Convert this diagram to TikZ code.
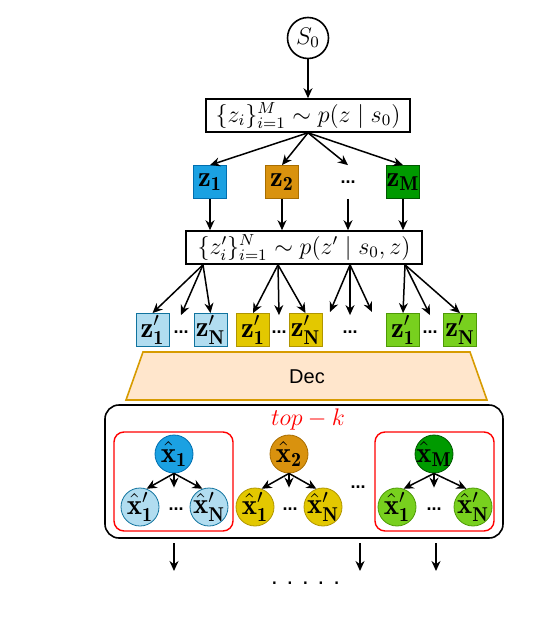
\documentclass[tikz,border=0pt]{standalone}
\usepackage{amsmath,amssymb}
\usepackage{fontspec}
\newfontfamily\decfont{Liberation Sans}
\usepackage{tikz}
\usetikzlibrary{arrows.meta,calc}
\definecolor{zblue}{HTML}{1BA1E2}
\definecolor{zbluedk}{HTML}{006EAF}
\definecolor{zorange}{HTML}{D9920E}
\definecolor{zorangedk}{HTML}{A86D00}
\definecolor{zgreen}{HTML}{009A00}
\definecolor{zgreendk}{HTML}{005700}
\definecolor{lblue}{HTML}{B1DDF0}
\definecolor{lbluedk}{HTML}{10739E}
\definecolor{lyellow}{HTML}{E3C800}
\definecolor{lyellowdk}{HTML}{B09500}
\definecolor{lgreen}{HTML}{78D01E}
\definecolor{lgreendk}{HTML}{4E9A06}
\definecolor{decfill}{HTML}{FFE6CC}
\definecolor{decdk}{HTML}{D79B00}

\begin{document}
\begin{tikzpicture}[x=0.5pt, y=-0.5pt, font=\large,
    >={Stealth[length=5pt, width=4.5pt]},
    arr/.style={->, line width=0.75pt},
    sq/.style={draw, minimum size=16.5pt, inner sep=0pt, font=\Large},
    ball/.style={circle, draw, minimum size=19pt, inner sep=-2.5pt, font=\Large},
    gap/.style={minimum size=16.5pt, inner sep=0pt, font=\decfont\bfseries\small},
    formula/.style={draw, line width=0.8pt, minimum height=16.5pt, inner sep=1pt},
    pick/.style={draw=red, line width=0.7pt, rounded corners=5pt, minimum width=59.5pt, minimum height=49.5pt}]
    \useasboundingbox (0,0) rectangle (554,631);

    % Start state and first sampling
    \node[circle, draw, line width=0.8pt, minimum size=20.5pt, inner sep=0pt] (s0) at (308,38) {$S_0$};
    \node[formula, minimum width=102pt] (pz) at (308,115.5) {$\{z_i\}_{i=1}^{M} \sim p(z \mid s_0)$};
    \draw[arr] (s0) -- (pz);

    % Latent codes
    \node[sq, fill=zblue, draw=zbluedk] (z1) at (210,182) {$\mathbf{z_1}$};
    \node[sq, fill=zorange, draw=zorangedk] (z2) at (282,182) {$\mathbf{z_2}$};
    \node[gap] (zd) at (348,182) {...};
    \node[sq, fill=zgreen, draw=zgreendk] (zM) at (403,182) {$\mathbf{z_M}$};
    \foreach \n in {z1,z2,zd,zM} \draw[arr] (pz.south) -- (\n.north);

    % Second sampling
    \node[formula, minimum width=118pt] (pzz) at (304,247.5) {$\{z'_i\}_{i=1}^{N} \sim p(z' \mid s_0, z)$};
    \foreach \n in {z1,z2,zd,zM} \draw[arr] (\n.south) -- (\n.south |- pzz.north);

    % Refined codes
    \node[sq, fill=lblue, draw=lbluedk] (b1) at (152.5,330) {$\mathbf{z'_1}$};
    \node[gap] (bd) at (181,332) {...};
    \node[sq, fill=lblue, draw=lbluedk] (bN) at (210.5,330) {$\mathbf{z'_N}$};
    \node[sq, fill=lyellow, draw=lyellowdk] (y1) at (253,330) {$\mathbf{z'_1}$};
    \node[gap] (yd) at (279,332) {...};
    \node[sq, fill=lyellow, draw=lyellowdk] (yN) at (305.5,330) {$\mathbf{z'_N}$};
    \node[gap] (md) at (350,332) {...};
    \node[sq, fill=lgreen, draw=lgreendk] (g1) at (403,330) {$\mathbf{z'_1}$};
    \node[gap] (gd) at (430,332) {...};
    \node[sq, fill=lgreen, draw=lgreendk] (gN) at (460,330) {$\mathbf{z'_N}$};
    \coordinate (m1) at (330,312);
    \coordinate (m2) at (372,312);
    \foreach \n in {b1,bd,bN} \draw[arr] ($(pzz.south)+(-101,0)$) -- (\n.north);
    \foreach \n in {y1,yd,yN} \draw[arr] ($(pzz.south)+(-26,0)$) -- (\n.north);
    \draw[arr] ($(pzz.south)+(46,0)$) -- (m1);
    \draw[arr] ($(pzz.south)+(46,0)$) -- (md.north);
    \draw[arr] ($(pzz.south)+(46,0)$) -- (m2);
    \foreach \n in {g1,gd,gN} \draw[arr] ($(pzz.south)+(101,0)$) -- (\n.north);

    % Decoder
    \draw[draw=decdk, fill=decfill, line width=0.8pt] (143,352) -- (470,352) -- (487,400) -- (126,400) -- cycle;
    \node[font=\decfont\normalsize] (dec) at (307,377) {Dec};

    % Decoded outputs
    \node[draw, line width=0.8pt, rounded corners=7pt, minimum width=199pt, minimum height=66.5pt] (out) at (304,471.5) {};
    \node[text=red] (topk) at (308,419) {$top-k$};
    \node[pick] (k1) at (173.5,481.5) {};
    \node[pick] (k2) at (434.5,481.5) {};

    \node[ball, fill=zblue, draw=zbluedk] (x1) at (174,454) {$\hat{\mathbf{x}}_{\mathbf{1}}$};
    \node[ball, fill=lblue, draw=lbluedk] (xb1) at (140,507) {$\hat{\mathbf{x}}'_{\mathbf{1}}$};
    \node[gap] (xbd) at (176,509) {...};
    \node[ball, fill=lblue, draw=lbluedk] (xbN) at (209,507) {$\hat{\mathbf{x}}'_{\mathbf{N}}$};

    \node[ball, fill=zorange, draw=zorangedk] (x2) at (289,454) {$\hat{\mathbf{x}}_{\mathbf{2}}$};
    \node[ball, fill=lyellow, draw=lyellowdk] (xy1) at (255,507) {$\hat{\mathbf{x}}'_{\mathbf{1}}$};
    \node[gap] (xyd) at (290,509) {...};
    \node[ball, fill=lyellow, draw=lyellowdk] (xyN) at (323,507) {$\hat{\mathbf{x}}'_{\mathbf{N}}$};

    \node[gap] (xd) at (358,487) {...};

    \node[ball, fill=zgreen, draw=zgreendk] (xM) at (434,454) {$\hat{\mathbf{x}}_{\mathbf{M}}$};
    \node[ball, fill=lgreen, draw=lgreendk] (xg1) at (397,507) {$\hat{\mathbf{x}}'_{\mathbf{1}}$};
    \node[gap] (xgd) at (434,509) {...};
    \node[ball, fill=lgreen, draw=lgreendk] (xgN) at (473,507) {$\hat{\mathbf{x}}'_{\mathbf{N}}$};

    \foreach \p/\l/\r in {x1/xb1/xbN, x2/xy1/xyN, xM/xg1/xgN} {
        \draw[arr] (\p.south) -- (\l.70);
        \draw[arr] (\p.south) -- (\p.south |- \l.north);
        \draw[arr] (\p.south) -- (\r.110);
    }

    % Further steps
    \foreach \x [count=\i] in {174,360,436} {
        \coordinate (o\i) at (\x,543);
        \coordinate (e\i) at (\x,571);
        \draw[arr] (o\i) -- (e\i);
    }
    \node[font=\decfont\large, anchor=base] (more) at (305.5,584) {. . . . .};
\end{tikzpicture}
\end{document}
